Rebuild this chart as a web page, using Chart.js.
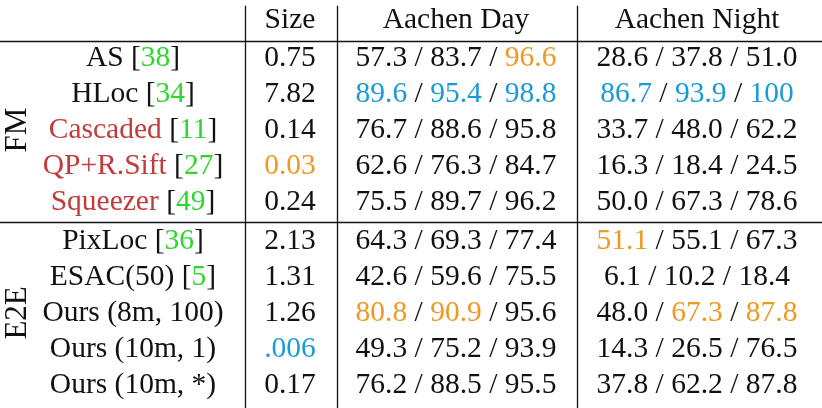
<!DOCTYPE html>
<html><head><meta charset="utf-8">
<script src="https://cdn.jsdelivr.net/npm/chart.js@4"></script>
<style>html,body{margin:0;padding:0;background:#fff}#w{width:822px;height:408px}</style>
</head><body><div id="w"><canvas id="c"></canvas></div>
<script>
const headers = ["", "Size", "Aachen Day", "Aachen Night"];
const groups = ["FM", "E2E"];
const methods = ["AS", "HLoc", "Cascaded", "QP+R.Sift", "Squeezer", "PixLoc", "ESAC(50)", "Ours (8m, 100)", "Ours (10m, 1)", "Ours (10m, *)"];
const methodRed = [0, 0, 1, 1, 1, 0, 0, 0, 0, 0];
const refs = ["38", "34", "11", "27", "49", "36", "5", "", "", ""];
const groupOf = [0,0,0,0,0,1,1,1,1,1];
const sizes = ["0.75", "7.82", "0.14", "0.03", "0.24", "2.13", "1.31", "1.26", ".006", "0.17"];
const sizeMark = ["", "", "", "o", "", "", "", "", "b", ""];
const day = [
  ["57.3","83.7","96.6"],["89.6","95.4","98.8"],["76.7","88.6","95.8"],["62.6","76.3","84.7"],["75.5","89.7","96.2"],
  ["64.3","69.3","77.4"],["42.6","59.6","75.5"],["80.8","90.9","95.6"],["49.3","75.2","93.9"],["76.2","88.5","95.5"]];
const dayMark = [
  ["","","o"],["b","b","b"],["","",""],["","",""],["","",""],
  ["","",""],["","",""],["o","o",""],["","",""],["","",""]];
const night = [
  ["28.6","37.8","51.0"],["86.7","93.9","100"],["33.7","48.0","62.2"],["16.3","18.4","24.5"],["50.0","67.3","78.6"],
  ["51.1","55.1","67.3"],["6.1","10.2","18.4"],["48.0","67.3","87.8"],["14.3","26.5","76.5"],["37.8","62.2","87.8"]];
const nightMark = [
  ["","",""],["b","b","b"],["","",""],["","",""],["","",""],
  ["o","",""],["","",""],["","o","o"],["","",""],["","",""]];

const COL = {"":"#111", b:"#1a9bd7", o:"#ee9a22", r:"#c43a3a", g:"#2fd62f"};
const FONT = "29.5px 'Liberation Serif', 'Times New Roman', serif";
const colX = [133, 290, 456, 697];
const vLines = [245, 337, 577];
const rowY = i => i + (i >= 5 ? 0.08 : 0);
const headerY = -1.05, sepY = [-0.47, 4.55];

function drawSegs(ctx, segs, cx, cy){
  let w = segs.reduce((s,g)=>s+ctx.measureText(g[0]).width,0);
  let x = cx - w/2;
  for (const [t,c] of segs){ ctx.fillStyle = COL[c]; ctx.fillText(t, x, cy); x += ctx.measureText(t).width; }
}
function triple(vals, marks){
  const s=[]; vals.forEach((v,k)=>{ if(k) s.push([" / ",""]); s.push([v,marks[k]]); }); return s;
}
const tablePlugin = {
  id:"table",
  afterDraw(chart){
    const ctx = chart.ctx, X = chart.scales.x, Y = chart.scales.y;
    ctx.save();
    ctx.strokeStyle="#111"; ctx.lineWidth=1.3;
    for (const v of vLines){ const p=Math.round(X.getPixelForValue(v))+0.5; ctx.beginPath(); ctx.moveTo(p, Y.getPixelForValue(-1.45)); ctx.lineTo(p, 408); ctx.stroke(); }
    for (const s of sepY){ const p=Math.round(Y.getPixelForValue(s))+0.5; ctx.beginPath(); ctx.moveTo(0,p); ctx.lineTo(822,p); ctx.stroke(); }
    ctx.font = FONT; ctx.textBaseline="middle"; ctx.textAlign="left";
    headers.forEach((h,k)=>{ if(h) drawSegs(ctx,[[h,""]],X.getPixelForValue(colX[k]),Y.getPixelForValue(headerY)); });
    methods.forEach((m,i)=>{
      const y = Y.getPixelForValue(rowY(i));
      const segs=[[m, methodRed[i]?"r":""]];
      if (refs[i]) segs.push([" [",""],[refs[i],"g"],["]",""]);
      drawSegs(ctx, segs, X.getPixelForValue(colX[0]), y);
      drawSegs(ctx, [[sizes[i], sizeMark[i]]], X.getPixelForValue(colX[1]), y);
      drawSegs(ctx, triple(day[i], dayMark[i]), X.getPixelForValue(colX[2]), y);
      drawSegs(ctx, triple(night[i], nightMark[i]), X.getPixelForValue(colX[3]), y);
    });
    groups.forEach((g,gi)=>{
      const idx = groupOf.map((v,i)=>v===gi?i:-1).filter(i=>i>=0);
      const cy = (Y.getPixelForValue(rowY(idx[0]))+Y.getPixelForValue(rowY(idx[idx.length-1])))/2;
      ctx.save(); ctx.translate(X.getPixelForValue(18), cy); ctx.rotate(-Math.PI/2);
      ctx.font = "31px 'Liberation Serif', serif"; drawSegs(ctx,[[g,""]],0,0); ctx.restore();
    });
    ctx.restore();
  }
};
new Chart(document.getElementById("c"), {
  type:"scatter",
  data:{datasets:[{data:[]}]},
  options:{
    responsive:true, maintainAspectRatio:false, animation:false,
    layout:{padding:0},
    plugins:{legend:{display:false},tooltip:{enabled:false}},
    scales:{
      x:{type:"linear",min:0,max:822,display:false},
      y:{type:"linear",min:-1.61,max:9.72,reverse:true,display:false}
    }
  },
  plugins:[tablePlugin]
});
</script></body></html>
